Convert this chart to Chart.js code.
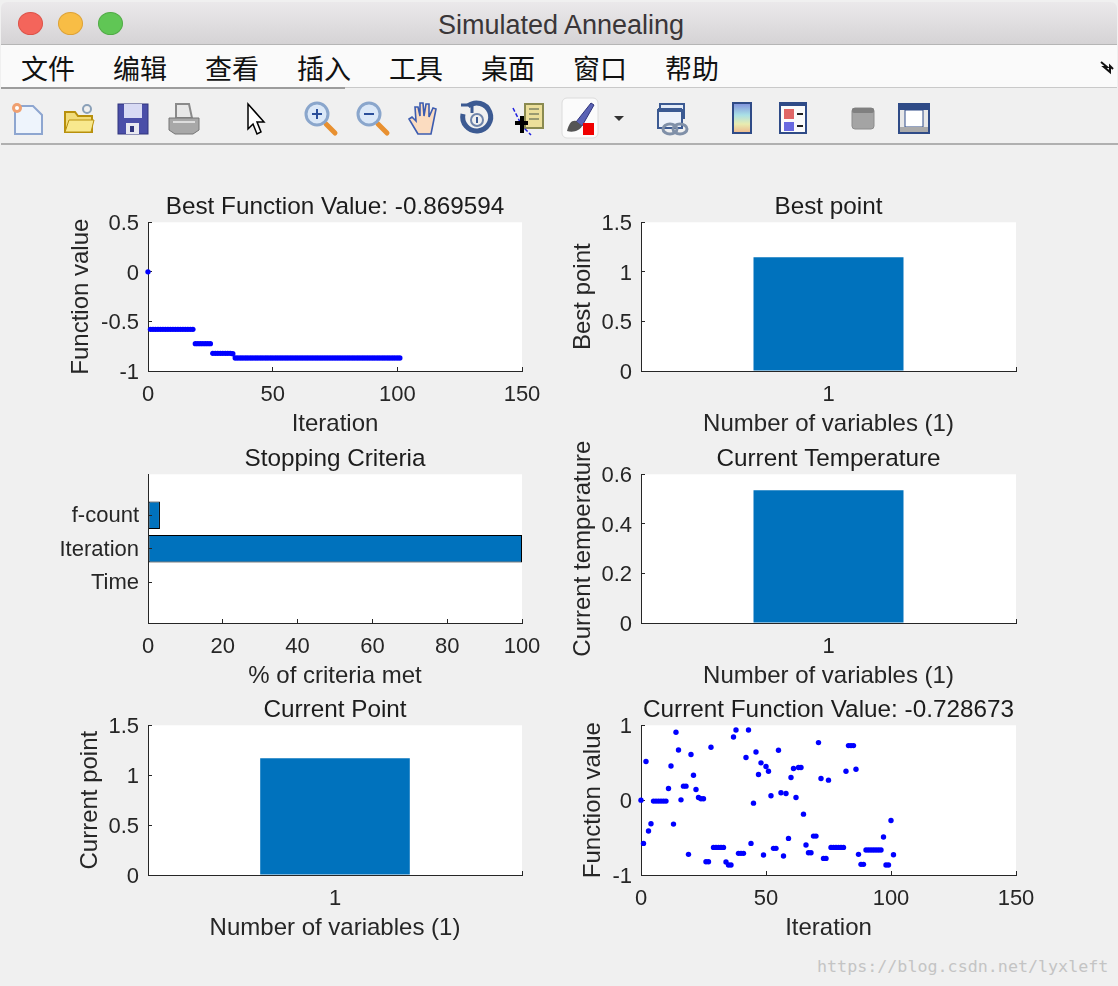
<!DOCTYPE html>
<html lang="zh">
<head>
<meta charset="utf-8">
<title>Simulated Annealing</title>
<script src="https://cdn.jsdelivr.net/npm/chart.js"></script>
<style>
  html, body { margin: 0; padding: 0; background: #f0f0f0; }
  body { position: relative; width: 1118px; height: 986px; overflow: hidden; font-family: "Liberation Sans", Arial, sans-serif; }
  canvas { position: absolute; }
  #titlebar { position: absolute; left: 1px; top: 2px; width: 1116px; height: 43px; border-radius: 6px 6px 0 0; background: linear-gradient(#ebe9eb, #d5d3d5); border-bottom: 1px solid #b5b5b5; box-sizing: border-box; }
  #wintitle { position: absolute; left: 2px; top: 8px; width: 100%; text-align: center; font-size: 27px; line-height: 30px; color: #3a3638; }
  .light { position: absolute; top: 10px; width: 25px; height: 23px; border-radius: 50%; box-sizing: border-box; }
  #menubar { position: absolute; left: 1px; top: 45px; width: 1116px; height: 43px; background: #fafafa; border-bottom: 1px solid #c9c9c9; box-sizing: border-box; }
  #menuline { position: absolute; left: 1px; top: 87px; width: 344px; height: 2px; background: #9c9c9c; }
  .menu { position: absolute; top: 3px; font-family: "Noto Sans CJK SC"; font-size: 27px; line-height: 40px; color: #111; }
  #toolline { position: absolute; left: 1px; top: 143px; width: 1117px; height: 2px; background: #b0b0b0; }
  #tools { position: absolute; left: 0; top: 90px; overflow: visible; }
  #watermark { position: absolute; left: 817px; top: 956px; font-family: "DejaVu Sans Mono"; font-size: 16.7px; line-height: 20px; color: #c4c4c4; white-space: nowrap; }
</style>
</head>
<body>
<div id="titlebar">
  <div class="light" style="left:17px;background:#f4655b;border:1px solid #dd5248"></div>
  <div class="light" style="left:57px;background:#f8bd45;border:1px solid #dea235"></div>
  <div class="light" style="left:97px;background:#60c655;border:1px solid #50ab45"></div>
  <div id="wintitle">Simulated Annealing</div>
</div>
<div id="menubar"></div>
<div id="menuline"></div>
<div id="toolline"></div>
<svg id="tools" width="1118" height="54" viewBox="0 0 1118 54">
  <defs>
    <linearGradient id="rainbow" x1="0" y1="0" x2="0" y2="1">
      <stop offset="0" stop-color="#7f8fdc"/><stop offset=".4" stop-color="#a9e0e6"/><stop offset=".7" stop-color="#e8ecb0"/><stop offset="1" stop-color="#eeb78c"/>
    </linearGradient>
  </defs>
  <g transform="translate(28,28)"><path d="M-13-12H5L14-3V16H-13Z" fill="#eef4fc" stroke="#8ea6d0" stroke-width="2"/><circle cx="-11" cy="-10" r="5" fill="#f0a070"/><circle cx="-11" cy="-10" r="2" fill="#fff"/></g>
  <g transform="translate(79,28)"><path d="M-14-6H-4L-1-2H13V14H-14Z" fill="#f2dc7a" stroke="#b8900c" stroke-width="2"/><path d="M-14 14L-10 2H15L12 14Z" fill="#f8e88e" stroke="#b8900c"/><circle cx="8" cy="-9" r="4" fill="none" stroke="#8aa0b8" stroke-width="2"/></g>
  <g transform="translate(133,28)"><rect x="-15" y="-14" width="30" height="30" fill="#4a4ea8" stroke="#30347c"/><rect x="-9" y="-14" width="18" height="14" fill="#d8daf4"/><rect x="-7" y="5" width="13" height="11" fill="#e8e8f0"/><rect x="-3" y="8" width="4" height="6" fill="#30347c"/></g>
  <g transform="translate(184,28)"><path d="M-8-14H5L8 0H-8Z" fill="#e8e8e8" stroke="#8a8a8a" stroke-width="2"/><path d="M-15 0H15V12L9 16H-9L-15 12Z" fill="#a8a8a8" stroke="#777"/><path d="M-11 4H11" stroke="#ddd" stroke-width="2"/></g>
  <path transform="translate(248,14)" d="M0 0L16 18H9L13 28L9 30L5 20L0 25Z" fill="#fff" stroke="#000" stroke-width="1.5"/>
  <g transform="translate(320,28)"><path d="M6 6L15 15" stroke="#e89030" stroke-width="5" stroke-linecap="round"/><circle cx="-3" cy="-4" r="11" fill="#dbe8f8" stroke="#8aa6cc" stroke-width="3"/><path d="M-8-4H2M-3-9V1" stroke="#2a4e9a" stroke-width="2"/></g>
  <g transform="translate(372,28)"><path d="M6 6L15 15" stroke="#e89030" stroke-width="5" stroke-linecap="round"/><circle cx="-3" cy="-4" r="11" fill="#dbe8f8" stroke="#8aa6cc" stroke-width="3"/><path d="M-8-4H2" stroke="#2a4e9a" stroke-width="2"/></g>
  <path transform="translate(424,28)" d="M-6 16L-15 1L-12-1L-8 3L-9-11L-6-11L-4-2L-4-15L-1-15L0-2L2-14L5-14L5-1L9-10L12-9L9 6L7 16Z" fill="#fbdcc0" stroke="#3c5cb0" stroke-width="1.6"/>
  <g transform="translate(476,28)" fill="none"><path d="M-8-12A14 14 0 1 1-13-4" stroke="#3c5a92" stroke-width="5"/><path d="M-15-13H-4V-5" stroke="#3c5a92" stroke-width="3"/><circle cx="1" cy="2" r="6" stroke="#6f84aa" stroke-width="2"/><path d="M1-1V5" stroke="#3c5a92" stroke-width="2"/></g>
  <g transform="translate(527,28)"><rect x="-2" y="-14" width="18" height="24" fill="#ecdf9a" stroke="#8a8a50" stroke-width="2"/><path d="M2-9H12M2-4H12M2 1H12" stroke="#9a9a70" stroke-width="2"/><path d="M-14-10L-5 8L4 17" fill="none" stroke="#2020e0" stroke-width="1.5" stroke-dasharray="4 2"/><path d="M-12 5H1M-5-2V15" stroke="#000" stroke-width="4"/></g>
  <g transform="translate(580,28)"><rect x="-18" y="-20" width="36" height="40" rx="5" fill="#fbfbfb" stroke="#dcdcdc"/><path d="M-4 4L11-15L14-13L2 8Z" fill="#5a62b4" stroke="#30347c"/><path d="M-13 13C-11 5-8 2-4 3L2 8C0 12-6 15-13 13Z" fill="#555"/><rect x="3" y="5" width="11" height="12" fill="#f00000"/></g>
  <path transform="translate(619,28)" d="M-5-2H5L0 3Z" fill="#333"/>
  <g transform="translate(673,28)"><rect x="-13" y="-14" width="24" height="14" fill="#e4ecf8" stroke="#3c5a92" stroke-width="2"/><rect x="-15" y="-8" width="24" height="18" fill="#eef2fa" stroke="#3c5a92" stroke-width="2"/><path d="M-15-8H9" stroke="#3c5a92" stroke-width="4"/><g fill="none" stroke="#8090a8" stroke-width="3"><ellipse cx="-3" cy="11" rx="7" ry="5"/><ellipse cx="7" cy="11" rx="7" ry="5"/></g></g>
  <rect x="733" y="13" width="18" height="30" fill="url(#rainbow)" stroke="#2f4b87" stroke-width="2"/>
  <g transform="translate(793,28)"><rect x="-13" y="-15" width="26" height="30" fill="#fbfbfb" stroke="#2f4b87" stroke-width="2"/><path d="M-12-13H12" stroke="#2f4b87" stroke-width="2"/><rect x="-9" y="-9" width="10" height="10" fill="#e06666"/><rect x="-9" y="4" width="10" height="9" fill="#6a6ae0"/><path d="M4-4H10M4 8H10" stroke="#222" stroke-width="2"/></g>
  <rect x="852" y="18" width="22" height="21" rx="3" fill="#a4a4a4" stroke="#8c8c8c"/><rect x="852" y="18" width="22" height="5" rx="2" fill="#808080"/>
  <g transform="translate(914,28)"><rect x="-15" y="-14" width="30" height="29" fill="#e8e8e8" stroke="#2f4b87" stroke-width="2"/><rect x="-15" y="-14" width="30" height="6" fill="#2f4b87"/><rect x="-9" y="-8" width="18" height="17" fill="#fff" stroke="#2f4b87"/><rect x="-14" y="9" width="28" height="5" fill="#aaa"/></g>
  <path transform="translate(1107,-23)" d="M-6-5L0 0H-3L3 5V-1L6 2" fill="none" stroke="#111" stroke-width="2"/>
</svg>
<div id="watermark">https://blog.csdn.net/lyxleft</div>

<script>
const menuLabels = ["文件", "编辑", "查看", "插入", "工具", "桌面", "窗口", "帮助"];

const iterationTicks = [0, 50, 100, 150];
const functionTicks = [-1, -0.5, 0, 0.5];
const currentFunctionTicks = [-1, 0, 1];
const pointTicks = [0, 0.5, 1, 1.5];
const temperatureTicks = [0, 0.2, 0.4, 0.6];
const percentTicks = [0, 20, 40, 60, 80, 100];

const variableLabels = ["1"];
const bestPointValues = [1.148];
const currentPointValues = [1.17];
const temperatureValues = [0.536];

const criteriaLabels = ["Time", "Iteration", "f-count"];
const criteriaPositions = [1, 2, 3];
const criteriaValues = [0, 100, 3.2];

const bestFunctionValues = [
  0, -0.58, -0.58, -0.58, -0.58, -0.58, -0.58, -0.58, -0.58, -0.58,
  -0.58, -0.58, -0.58, -0.58, -0.58, -0.58, -0.58, -0.58, -0.58, -0.724,
  -0.724, -0.724, -0.724, -0.724, -0.724, -0.724, -0.822, -0.822, -0.822, -0.822,
  -0.822, -0.822, -0.822, -0.822, -0.826, -0.8696, -0.8696, -0.8696, -0.8696, -0.8696,
  -0.8696, -0.8696, -0.8696, -0.8696, -0.8696, -0.8696, -0.8696, -0.8696, -0.8696, -0.8696,
  -0.8696, -0.8696, -0.8696, -0.8696, -0.8696, -0.8696, -0.8696, -0.8696, -0.8696, -0.8696,
  -0.8696, -0.8696, -0.8696, -0.8696, -0.8696, -0.8696, -0.8696, -0.8696, -0.8696, -0.8696,
  -0.8696, -0.8696, -0.8696, -0.8696, -0.8696, -0.8696, -0.8696, -0.8696, -0.8696, -0.8696,
  -0.8696, -0.8696, -0.8696, -0.8696, -0.8696, -0.8696, -0.8696, -0.8696, -0.8696, -0.8696,
  -0.8696, -0.8696, -0.8696, -0.8696, -0.8696, -0.8696, -0.8696, -0.8696, -0.8696, -0.8696,
  -0.8696, -0.8696
];

const currentFunctionValues = [
  0, -0.578, 0.516, -0.413, -0.316, -0.013, -0.013, -0.013, -0.013, -0.013,
  -0.013, 0.156, 0.457, -0.32, 0.907, 0.671, 0.004, 0.187, 0.187, -0.724,
  0.609, 0.333, 0.142, 0.036, 0.018, 0.018, -0.822, -0.822, 0.707, -0.631,
  -0.631, -0.631, -0.631, -0.631, -0.826, -0.867, -0.867, 0.844, 0.937, -0.711,
  -0.711, -0.711, 0.569, 0.937, -0.578, -0.04, 0.644, 0.342, 0.498, -0.733,
  0.449, 0.387, 0.058, -0.644, -0.644, 0.667, 0.098, -0.747, 0.089, -0.511,
  0.302, 0.422, 0.036, 0.436, 0.436, -0.187, -0.6, -0.702, -0.702, -0.48,
  -0.48, 0.769, 0.289, -0.778, -0.778, 0.267, -0.631, -0.631, -0.631, -0.631,
  -0.631, -0.631, 0.387, 0.729, 0.729, 0.729, 0.413, -0.724, -0.858, -0.858,
  -0.667, -0.667, -0.667, -0.667, -0.667, -0.667, -0.667, -0.493, -0.867, -0.867,
  -0.271, -0.7287
];

const INK = "#262626";
const BLUE = "#0072BD";
const FAMILY = '"Liberation Sans", Arial, sans-serif';
const TICK_FONT = { family: FAMILY, size: 22 };
const LABEL_FONT = { family: FAMILY, size: 24, weight: "normal", lineHeight: 1 };
const TITLE_FONT = { family: FAMILY, size: 24.3, weight: "normal", lineHeight: 1 };
// TOP_PAD leaves room for the long "Current temperature" label above the axes
const TITLE_H = 27.3, TOP_PAD = 12, AXIS_W = 95, AXIS_H = 70;

menuLabels.forEach((t, i) => {
  const el = document.createElement("div");
  el.className = "menu";
  el.style.left = (20 + i * 92) + "px";
  el.textContent = t;
  document.getElementById("menubar").appendChild(el);
});

// white plot background, the figure itself stays grey
// and y tick labels sit a little low in the original, nudge them down
const plotBackground = {
  id: "plotBackground",
  beforeDraw(chart) {
    const a = chart.chartArea;
    const nudge = chart.options.indexAxis === "y" ? 1 : 2;
    chart.ctx.save();
    chart.ctx.fillStyle = "#fff";
    chart.ctx.fillRect(a.left, a.top, a.width, a.height);
    chart.ctx.restore();
    chart.scales.y.getLabelItems(a).forEach(item => { item.options.translation[1] += nudge; });
  }
};

function axis(title, ticks, extra, titleGap) {
  const horizontal = extra.horizontal;
  const z = extra.scatter ? 0 : 1; // axes stay on top of the bars
  return Object.assign({
    grid: { drawOnChartArea: false, color: INK, tickLength: -4, z: z },
    border: { color: INK, width: 1, z: z },
    ticks: {
      color: INK, font: TICK_FONT, autoSkip: false, maxRotation: 0, minRotation: 0,
      padding: horizontal ? 15 : 13,
      callback: function (v) { return this.type === "category" ? this.getLabelForValue(v) : String(v); }
    },
    title: title ? {
      display: true, text: title, color: INK, font: LABEL_FONT,
      padding: horizontal ? { top: 0, bottom: 5 } : { top: titleGap, bottom: 0 }
    } : { display: false },
    afterFit(s) { if (horizontal) s.height = AXIS_H; else s.width = AXIS_W; },
    afterBuildTicks(s) { if (ticks) s.ticks = ticks.map(v => ({ value: v })); }
  }, extra.options);
}

function makeChart(left, top, width, height, title, type, data, indexAxis, scales) {
  const canvas = document.createElement("canvas");
  canvas.width = width + 2 * AXIS_W;
  canvas.height = TOP_PAD + TITLE_H + height + AXIS_H;
  canvas.style.left = (left - AXIS_W) + "px";
  canvas.style.top = (top - TITLE_H - TOP_PAD) + "px";
  document.body.appendChild(canvas);
  return new Chart(canvas, {
    type: type,
    data: data,
    plugins: [plotBackground],
    options: {
      responsive: false,
      animation: false,
      devicePixelRatio: 1,
      indexAxis: indexAxis,
      layout: { padding: { left: 0, right: AXIS_W, top: TOP_PAD, bottom: 0 } },
      plugins: {
        legend: { display: false },
        tooltip: { enabled: false },
        title: {
          display: true, text: title, color: "#1c1c1c", font: TITLE_FONT,
          fullSize: false,
          padding: { top: 0, bottom: 3 }
        }
      },
      scales: scales
    }
  });
}

function dots(values) {
  return {
    datasets: [{
      data: values.map((v, i) => ({ x: i, y: v })),
      backgroundColor: "#0000ff",
      borderWidth: 0,
      pointRadius: 2.7,
      clip: false
    }]
  };
}

function oneBar(values) {
  return {
    labels: variableLabels,
    datasets: [{ data: values, backgroundColor: BLUE, borderWidth: 0, barPercentage: 0.4, categoryPercentage: 1 }]
  };
}

function barScales(yTitle, ticks, max) {
  return {
    x: axis("Number of variables (1)", null, { horizontal: true }),
    y: axis(yTitle, ticks, { options: { min: 0, max: max } }, 25)
  };
}

// Best Function Value
makeChart(148, 222, 374, 149, "Best Function Value: -0.869594", "scatter", dots(bestFunctionValues), "x", {
  x: axis("Iteration", iterationTicks, { horizontal: true, scatter: true, options: { type: "linear", min: 0, max: 150 } }),
  y: axis("Function value", functionTicks, { scatter: true, options: { min: -1, max: 0.5 } }, 16)
});

// Best point
makeChart(641, 222, 375, 149, "Best point", "bar", oneBar(bestPointValues), "x", barScales("Best point", pointTicks, 1.5));

// Stopping Criteria, y is linear so Time and f-count keep their wide margins
const criteriaScaleY = axis(null, criteriaPositions, { options: { type: "linear", offset: false, min: -0.22, max: 4.22 } });
criteriaScaleY.ticks.callback = v => criteriaLabels[criteriaPositions.indexOf(v)];
criteriaScaleY.grid.offset = false;
makeChart(148, 474, 374, 149, "Stopping Criteria", "bar", {
  datasets: [{
    data: criteriaValues.map((v, i) => ({ x: v, y: criteriaPositions[i] })),
    backgroundColor: BLUE, borderColor: "#000", borderWidth: 1, borderSkipped: false,
    barPercentage: 0.82, categoryPercentage: 1
  }]
}, "y", {
  x: axis("% of criteria met", percentTicks, { horizontal: true, options: { type: "linear", min: 0, max: 100 } }),
  y: criteriaScaleY
});

// Current Temperature
makeChart(641, 474, 375, 149, "Current Temperature", "bar", oneBar(temperatureValues), "x", barScales("Current temperature", temperatureTicks, 0.6));

// Current Point
makeChart(148, 725, 374, 150, "Current Point", "bar", oneBar(currentPointValues), "x", barScales("Current point", pointTicks, 1.5));

// Current Function Value
makeChart(641, 725, 375, 150, "Current Function Value: -0.728673", "scatter", dots(currentFunctionValues), "x", {
  x: axis("Iteration", iterationTicks, { horizontal: true, scatter: true, options: { type: "linear", min: 0, max: 150 } }),
  y: axis("Function value", currentFunctionTicks, { scatter: true, options: { min: -1, max: 1 } }, 35)
});
</script>
</body>
</html>
